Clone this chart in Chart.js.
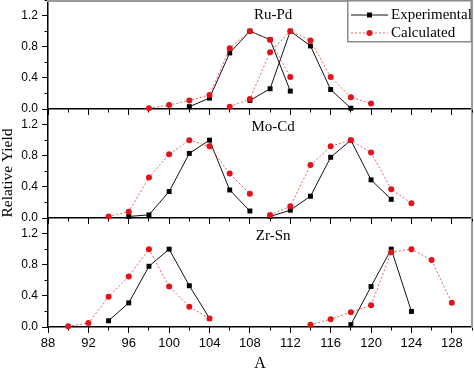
<!DOCTYPE html>
<html>
<head>
<meta charset="utf-8">
<script src="https://cdn.jsdelivr.net/npm/chart.js@4.4.1/dist/chart.umd.min.js"></script>
<style>
  html, body { margin: 0; padding: 0; background: #fff; }
  #wrap { position: relative; width: 474px; height: 370px; overflow: hidden; }
  #wrap canvas { position: absolute; left: 0; }
</style>
</head>
<body>
<div id="wrap">
  <canvas id="panel3" width="474" height="152" style="top:218px"></canvas>
  <canvas id="panel2" width="474" height="116" style="top:109px"></canvas>
  <canvas id="panel1" width="474" height="116" style="top:0px"></canvas>
</div>
<script>
// mass number A and relative yield
// Ru-Pd
const ruExpA = [102, 104, 106, 108, 110, 112];
const ruExp  = [0.03, 0.14, 0.72, 1.0, 0.89, 0.23];
const ruCalA = [98, 100, 102, 104, 106, 108, 110, 112];
const ruCal  = [0.01, 0.05, 0.11, 0.18, 0.78, 1.0, 0.89, 0.41];
const pdExpA = [108, 110, 112, 114, 116, 118];
const pdExp  = [0.11, 0.26, 1.0, 0.81, 0.25, 0.01];
const pdCalA = [106, 108, 110, 112, 114, 116, 118, 120];
const pdCal  = [0.03, 0.13, 0.73, 1.0, 0.88, 0.41, 0.15, 0.07];
// Mo-Cd
const moExpA = [96, 98, 100, 102, 104, 106, 108];
const moExp  = [0.02, 0.04, 0.34, 0.83, 1.0, 0.36, 0.09];
const moCalA = [94, 96, 98, 100, 102, 104, 106, 108];
const moCal  = [0.02, 0.08, 0.52, 0.82, 1.0, 0.92, 0.57, 0.31];
const cdExpA = [110, 112, 114, 116, 118, 120, 122];
const cdExp  = [0.02, 0.10, 0.28, 0.78, 1.0, 0.49, 0.24];
const cdCalA = [110, 112, 114, 116, 118, 120, 122, 124];
const cdCal  = [0.04, 0.15, 0.68, 0.92, 1.0, 0.84, 0.37, 0.19];
// Zr-Sn
const zrExpA = [94, 96, 98, 100, 102, 104];
const zrExp  = [0.08, 0.31, 0.78, 1.0, 0.53, 0.11];
const zrCalA = [90, 92, 94, 96, 98, 100, 102, 104];
const zrCal  = [0.01, 0.05, 0.39, 0.65, 1.0, 0.52, 0.26, 0.11];
const snExpA = [118, 120, 122, 124];
const snExp  = [0.03, 0.52, 1.0, 0.20];
const snCalA = [114, 116, 118, 120, 122, 124, 126, 128];
const snCal  = [0.03, 0.10, 0.19, 0.28, 0.96, 1.0, 0.86, 0.31];

const xMin = 88, xMax = 130, xStep = 4;
const yMin = 0, yMax = 1.4, yStep = 0.4;

const SANS = '"Liberation Sans", Arial, sans-serif';
const SERIF = '"Liberation Serif", "Times New Roman", serif';

const expStyle = {
  label: 'Experimental',
  borderColor: '#111',
  borderWidth: 1,
  pointStyle: 'rect',
  pointRadius: 3.5,
  pointBackgroundColor: '#000',
  pointBorderWidth: 0
};
const calcStyle = {
  label: 'Calculated',
  borderColor: 'rgba(232,70,70,0.85)',
  borderWidth: 1,
  borderDash: [2, 2],
  pointStyle: 'circle',
  pointRadius: 3,
  pointBackgroundColor: '#e3121b',
  pointBorderWidth: 0
};

function series(a, v, style) {
  return Object.assign({}, style, {
    data: a.map((x, i) => ({ x: x, y: v[i] })),
    tension: 0,
    clip: false
  });
}

// fixed axis sizes, no label overhang padding
function fixSize(w, h) {
  return s => {
    if (w !== null) s.width = w;
    if (h !== null) s.height = h;
    s.paddingTop = 0; s.paddingBottom = 0;
    s.paddingLeft = 0; s.paddingRight = 0;
  };
}

const panelName = {
  id: 'panelName',
  afterDatasetsDraw(chart, args, opts) {
    if (!opts.text) return;
    const ctx = chart.ctx;
    ctx.save();
    ctx.font = '15px ' + SERIF;
    ctx.fillStyle = '#000';
    ctx.textAlign = 'center';
    ctx.textBaseline = 'middle';
    ctx.fillText(opts.text, chart.scales.x.getPixelForValue(opts.at), chart.chartArea.top + opts.dy);
    ctx.restore();
  }
};

const boxLegend = {
  id: 'boxLegend',
  afterDraw(chart, args, opts) {
    if (!opts.show) return;
    const ctx = chart.ctx;
    const right = chart.chartArea.right;
    const left = right - 125;
    ctx.save();
    ctx.fillStyle = '#fff';
    ctx.fillRect(left, 0, 125, 42);
    ctx.strokeStyle = '#8a8a8a';
    ctx.lineWidth = 1.5;
    ctx.strokeRect(left + 0.75, 0.75, 123.5, 41);
    opts.items.forEach((i, k) => {
      const ds = chart.data.datasets[i];
      const y = 15 + k * 18;
      ctx.strokeStyle = ds.borderColor;
      ctx.lineWidth = ds.borderWidth;
      ctx.setLineDash(ds.borderDash || []);
      ctx.beginPath();
      ctx.moveTo(left + 4, y);
      ctx.lineTo(left + 41, y);
      ctx.stroke();
      ctx.setLineDash([]);
      ctx.fillStyle = ds.pointBackgroundColor;
      Chart.helpers.drawPoint(ctx, { pointStyle: ds.pointStyle, radius: ds.pointRadius, rotation: 0, borderWidth: 0 }, left + 22.5, y);
      ctx.fillStyle = '#000';
      ctx.font = '15px ' + SERIF;
      ctx.textAlign = 'left';
      ctx.textBaseline = 'middle';
      ctx.fillText(ds.label, left + 44, y + 0.5);
    });
    ctx.restore();
  }
};

const yTitle = {
  id: 'yTitle',
  afterDraw(chart, args, opts) {
    if (!opts.text) return;
    const ctx = chart.ctx;
    ctx.save();
    ctx.translate(8, opts.y);
    ctx.rotate(-Math.PI / 2);
    ctx.font = '15.5px ' + SERIF;
    ctx.fillStyle = '#000';
    ctx.textAlign = 'center';
    ctx.textBaseline = 'middle';
    ctx.fillText(opts.text, 0, 0);
    ctx.restore();
  }
};

function makePanel(id, datasets, cfg) {
  const scales = {
    x: {
      type: 'linear', position: 'bottom', weight: 1, min: xMin, max: xMax,
      ticks: {
        display: cfg.bottom, stepSize: xStep, includeBounds: false, autoSkip: false, maxRotation: 0,
        color: '#000', font: { family: SANS, size: 13 }, padding: 3
      },
      grid: { drawOnChartArea: false, drawTicks: true, tickLength: 6, color: '#000' },
      border: { display: true, color: '#000', width: 1.5 },
      title: { display: cfg.bottom, text: 'A', color: '#000', font: { family: SERIF, size: 16 }, padding: { top: 0, bottom: -3 } },
      afterFit: fixSize(null, cfg.xHeight)
    },
    xMinor: {
      type: 'linear', position: 'bottom', weight: 0, min: xMin, max: xMax,
      ticks: { display: false, stepSize: xStep / 2, includeBounds: false },
      grid: { drawOnChartArea: false, drawTicks: true, tickLength: 3.5, color: '#000' },
      border: { display: false },
      afterFit: fixSize(null, 0)
    },
    y: {
      type: 'linear', position: 'left', weight: 1, min: yMin, max: yMax,
      ticks: {
        stepSize: yStep, includeBounds: false, color: '#000', font: { family: SANS, size: 12 }, padding: 4,
        callback: v => v.toFixed(1)
      },
      grid: { drawOnChartArea: false, drawTicks: true, tickLength: 6, color: '#000' },
      border: { display: true, color: '#000', width: 1.5 },
      afterFit: fixSize(48, null)
    },
    yMinor: {
      type: 'linear', position: 'left', weight: 0, min: yMin, max: yMax,
      ticks: { display: false, stepSize: yStep / 2, includeBounds: false },
      grid: { drawOnChartArea: false, drawTicks: true, tickLength: 3.5, color: '#000' },
      border: { display: false },
      afterFit: fixSize(0, null)
    },
    yRight: {
      type: 'linear', position: 'right', min: yMin, max: yMax,
      ticks: { display: false },
      grid: { drawOnChartArea: false, drawTicks: false },
      border: { display: true, color: '#9a9a9a', width: 2 },
      afterFit: fixSize(0, null)
    }
  };
  if (cfg.top) {
    scales.xTop = {
      type: 'linear', position: 'top', min: xMin, max: xMax,
      ticks: { display: false },
      grid: { drawOnChartArea: false, drawTicks: false },
      border: { display: true, color: '#9a9a9a', width: 3 },
      afterFit: fixSize(null, 0)
    };
  }
  return new Chart(document.getElementById(id), {
    type: 'line',
    data: { datasets: datasets },
    options: {
      responsive: false,
      animation: false,
      events: [],
      layout: { padding: { top: 0, right: 2, bottom: 0, left: 0 }, autoPadding: false },
      scales: scales,
      plugins: {
        legend: { display: false },
        tooltip: { enabled: false },
        panelName: { text: cfg.name, at: 110.3, dy: cfg.nameDy },
        boxLegend: { show: !!cfg.legend, items: [1, 0] },
        yTitle: { text: cfg.yTitle || '', y: 64 }
      }
    },
    plugins: [panelName, boxLegend, yTitle]
  });
}

makePanel('panel1', [
  series(ruCalA, ruCal, calcStyle),
  series(ruExpA, ruExp, expStyle),
  series(pdCalA, pdCal, calcStyle),
  series(pdExpA, pdExp, expStyle)
], { name: 'Ru-Pd', nameDy: 15, top: true, legend: true, bottom: false, xHeight: 7 });

makePanel('panel2', [
  series(moCalA, moCal, calcStyle),
  series(moExpA, moExp, expStyle),
  series(cdCalA, cdCal, calcStyle),
  series(cdExpA, cdExp, expStyle)
], { name: 'Mo-Cd', nameDy: 18, bottom: false, xHeight: 7, yTitle: 'Relative Yield' });

makePanel('panel3', [
  series(zrCalA, zrCal, calcStyle),
  series(zrExpA, zrExp, expStyle),
  series(snCalA, snCal, calcStyle),
  series(snExpA, snExp, expStyle)
], { name: 'Zr-Sn', nameDy: 18, bottom: true, xHeight: 43 });
</script>
</body>
</html>
